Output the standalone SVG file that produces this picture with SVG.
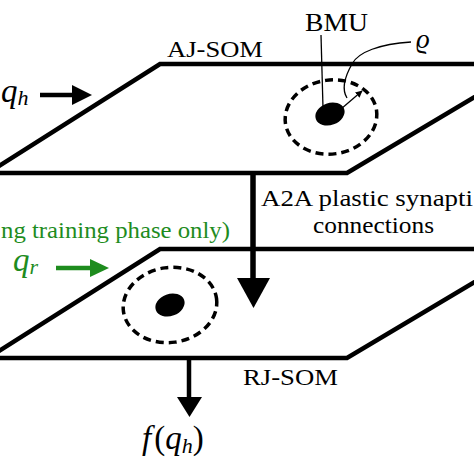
<svg xmlns="http://www.w3.org/2000/svg" width="474" height="474" viewBox="0 0 474 474">
<style>
.plane{fill:none;stroke:#000;stroke-width:4.5;stroke-linejoin:miter}
.dash{fill:none;stroke:#000;stroke-width:3.5;stroke-dasharray:8 5}
.bmu{fill:#000}
.t{font-family:'Liberation Serif','Times New Roman',serif;fill:#000}
.m{font-style:italic}
.g{fill:#1e8c1e}
.thick{stroke:#000;stroke-width:4.5;fill:none}
.thin{stroke:#000;stroke-width:1.3;fill:none}
</style>
<defs>
<marker id="sm" viewBox="0 0 10 10" refX="9" refY="5" markerWidth="7" markerHeight="7" markerUnits="userSpaceOnUse" orient="auto"><path d="M0,0 L10,5 L0,10 z" fill="#000"/></marker>
</defs>
<g id="aj-som">
<polygon class="plane" points="160,64 530,64 347,173 -12,173"/>
<ellipse class="dash" cx="331" cy="117" rx="46" ry="37" transform="rotate(-8 331 117)"/>
<ellipse class="bmu" cx="330" cy="114" rx="15" ry="11" transform="rotate(-20 330 114)"/>
<text class="t" x="167" y="57" font-size="23" textLength="96" lengthAdjust="spacingAndGlyphs">AJ-SOM</text>
</g>
<g id="bmu-label">
<text class="t" x="305" y="31" font-size="26" textLength="63" lengthAdjust="spacingAndGlyphs">BMU</text>
<line class="thin" x1="321" y1="35" x2="323" y2="108"/>
</g>
<g id="rho">
<text class="t m" x="416" y="48" font-size="27">ϱ</text>
<path class="thin" d="M411,42 C380,44 358,52 352,64 C344,78 342,90 347,98"/>
<line class="thin" x1="341" y1="109" x2="362" y2="91" marker-end="url(#sm)"/>
</g>
<g id="rj-som">
<polygon class="plane" points="160,249 530,249 347,358 -12,358"/>
<ellipse class="dash" cx="170" cy="305" rx="47" ry="37.5" transform="rotate(-8 170 305)"/>
<ellipse class="bmu" cx="170" cy="305" rx="15" ry="11" transform="rotate(-20 170 305)"/>
<text class="t" x="243" y="385" font-size="23" textLength="95" lengthAdjust="spacingAndGlyphs">RJ-SOM</text>
</g>
<g id="connectors">
<line class="thick" x1="40" y1="95" x2="74" y2="95"/>
<path d="M72,85 L92,95 L72,105 z" fill="#000"/>
<line stroke="#1e8c1e" stroke-width="4.5" x1="56" y1="268" x2="92" y2="268"/>
<path d="M90,259 L109,268 L90,277 z" fill="#1e8c1e"/>
<line stroke="#000" stroke-width="5.5" x1="253" y1="172" x2="253" y2="282"/>
<path d="M237,278 L270,278 L253.5,308 z" fill="#000"/>
<line class="thick" x1="189" y1="360" x2="189" y2="400"/>
<path d="M177,397 L202,397 L189.5,417 z" fill="#000"/>
</g>
<g id="labels">
<text class="t" x="1" y="102" font-size="33"><tspan class="m">q</tspan><tspan class="m" font-size="22" dy="3">h</tspan></text>
<text class="t g" x="13" y="271" font-size="33"><tspan class="m">q</tspan><tspan class="m" font-size="22" dy="3">r</tspan></text>
<text class="t g" x="1" y="238" font-size="24" textLength="229" lengthAdjust="spacingAndGlyphs">ng training phase only)</text>
<text class="t" x="261" y="206" font-size="24" textLength="212" lengthAdjust="spacingAndGlyphs">A2A plastic synapti</text>
<text class="t" x="313" y="233" font-size="24" textLength="121" lengthAdjust="spacingAndGlyphs">connections</text>
<text class="t" x="142" y="449" font-size="33"><tspan class="m">f</tspan><tspan dx="3">(</tspan><tspan class="m">q</tspan><tspan class="m" font-size="22" dy="4">h</tspan><tspan dy="-4">)</tspan></text>
</g>
</svg>
